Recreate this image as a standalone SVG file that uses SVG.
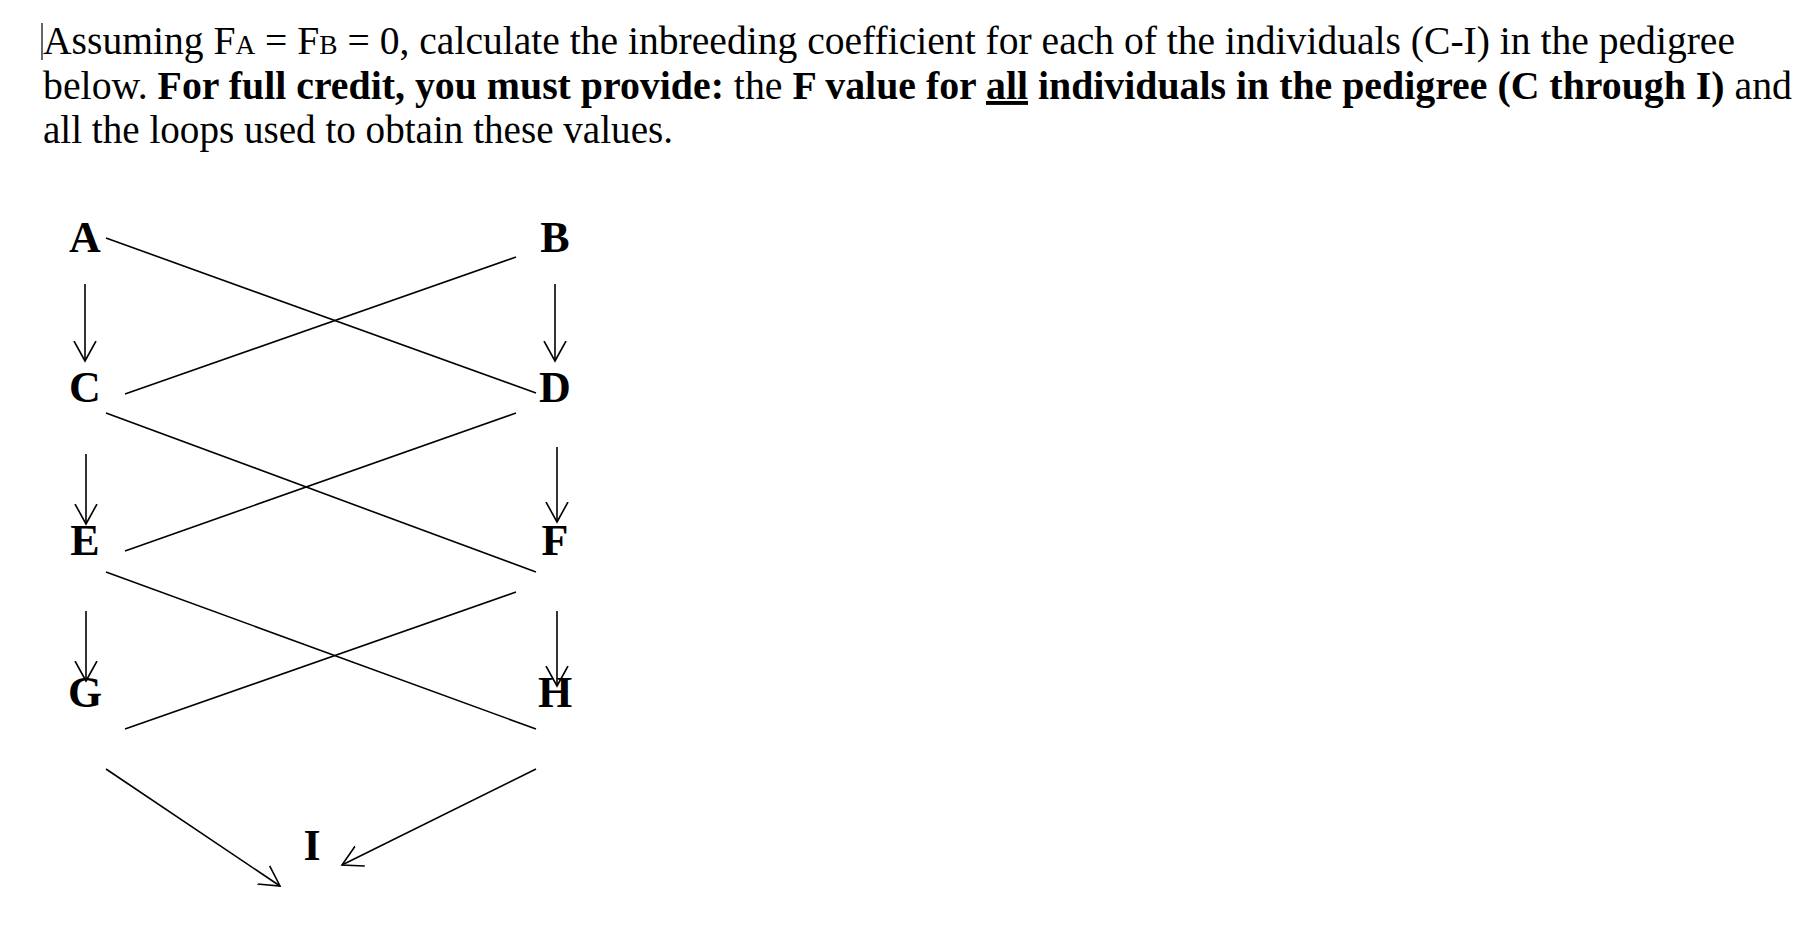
<svg xmlns="http://www.w3.org/2000/svg" width="1810" height="930" viewBox="0 0 1810 930">
<style>
.t{font-family:"Liberation Serif","Times New Roman",serif;font-size:39px;fill:#000}
.n{font-family:"Liberation Serif","Times New Roman",serif;font-size:44px;font-weight:bold;fill:#000;text-anchor:middle}
.c line{stroke:#000;stroke-width:1.6}
.a{marker-end:url(#ah)}
</style>
<defs>
<marker id="ah" markerWidth="24" markerHeight="26" refX="20" refY="12" orient="auto" markerUnits="userSpaceOnUse">
<path d="M0,1 L20,12 L0,23" fill="none" stroke="#000" stroke-width="1.6"/>
</marker>
</defs>
<rect width="1810" height="930" fill="#fff"/>
<line x1="42" y1="23" x2="42" y2="60" stroke="#000" stroke-width="1.2"/>
<text class="t" x="43" y="54" textLength="1692" lengthAdjust="spacingAndGlyphs">Assuming F<tspan font-size="27">A</tspan> = F<tspan font-size="27">B</tspan> = 0, calculate the inbreeding coefficient for each of the individuals (C-I) in the pedigree</text>
<text class="t" x="43" y="99" textLength="1749" lengthAdjust="spacingAndGlyphs">below. <tspan font-weight="bold">For full credit, you must provide:</tspan> the <tspan font-weight="bold">F value for <tspan text-decoration="underline">all</tspan> individuals in the pedigree (C through I)</tspan> and</text>
<text class="t" x="43" y="143" textLength="630" lengthAdjust="spacingAndGlyphs">all the loops used to obtain these values.</text>
<g class="c">
<line x1="106" y1="238" x2="536" y2="393"/>
<line x1="516" y1="257" x2="125" y2="394"/>
<line x1="106" y1="413" x2="536" y2="572"/>
<line x1="516" y1="413" x2="125" y2="551"/>
<line x1="106" y1="572" x2="536" y2="729"/>
<line x1="516" y1="592" x2="125" y2="729"/>
<line class="a" x1="85" y1="284" x2="85" y2="361"/>
<line class="a" x1="555" y1="284" x2="555" y2="361"/>
<line class="a" x1="86" y1="454" x2="86" y2="524"/>
<line class="a" x1="557" y1="447" x2="557" y2="522"/>
<line class="a" x1="86" y1="611" x2="86" y2="681"/>
<line class="a" x1="557" y1="611" x2="557" y2="686"/>
<line class="a" x1="106" y1="769" x2="280" y2="886"/>
<line class="a" x1="536" y1="769" x2="342" y2="865"/>
</g>
<g id="A"><text class="n" x="85" y="252">A</text></g>
<g id="B"><text class="n" x="555" y="252">B</text></g>
<g id="C"><text class="n" x="85" y="402">C</text></g>
<g id="D"><text class="n" x="555" y="402">D</text></g>
<g id="E"><text class="n" x="85" y="555">E</text></g>
<g id="F"><text class="n" x="555" y="555">F</text></g>
<g id="G"><text class="n" x="85" y="707">G</text></g>
<g id="H"><text class="n" x="555" y="707">H</text></g>
<g id="I"><text class="n" x="312" y="860">I</text></g>
</svg>
